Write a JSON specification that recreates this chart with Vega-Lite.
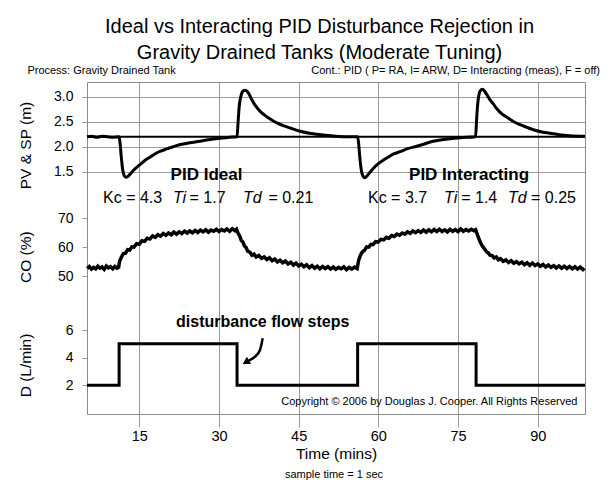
{
  "$schema": "https://vega.github.io/schema/vega-lite/v6.json",
  "width": 498,
  "height": 332,
  "autosize": {"type": "none"},
  "padding": {"left": 87, "top": 82, "right": 28, "bottom": 85},
  "background": "white",
  "config": {
    "font": "Liberation Sans",
    "view": {"stroke": "#8a8a8a", "strokeWidth": 1},
    "axis": {
      "domain": false,
      "grid": true,
      "gridColor": "#9a9a9a",
      "gridWidth": 1,
      "tickColor": "#9a9a9a",
      "labelColor": "black",
      "titleColor": "black",
      "titleFontWeight": "normal",
      "labelFont": "Liberation Sans",
      "titleFont": "Liberation Sans"
    }
  },
  "title": {
    "text": ["Ideal vs Interacting PID Disturbance Rejection in", "Gravity Drained Tanks (Moderate Tuning)"],
    "fontSize": 20,
    "fontWeight": "normal",
    "font": "Liberation Sans",
    "color": "black",
    "anchor": "middle",
    "frame": "group",
    "dx": -16.5,
    "dy": -2,
    "lineHeight": 25.6,
    "offset": 0
  },
  "datasets": {
    "pv": [
      {"t": 5.15, "pv": 2.2}, {"t": 6, "pv": 2.21}, {"t": 7, "pv": 2.19}, {"t": 8, "pv": 2.21}, {"t": 9, "pv": 2.2}, {"t": 10, "pv": 2.19},
      {"t": 11.2, "pv": 2.2}, {"t": 11.4, "pv": 2.05}, {"t": 11.6, "pv": 1.8}, {"t": 11.8, "pv": 1.6}, {"t": 12.0, "pv": 1.47}, {"t": 12.3, "pv": 1.4},
      {"t": 12.6, "pv": 1.39}, {"t": 13.0, "pv": 1.42}, {"t": 13.5, "pv": 1.48}, {"t": 14, "pv": 1.54}, {"t": 15, "pv": 1.63}, {"t": 16, "pv": 1.72},
      {"t": 17, "pv": 1.79}, {"t": 18, "pv": 1.86}, {"t": 19, "pv": 1.91}, {"t": 20, "pv": 1.95}, {"t": 21.4, "pv": 2.0}, {"t": 23, "pv": 2.05},
      {"t": 24.5, "pv": 2.08}, {"t": 26.4, "pv": 2.11}, {"t": 28, "pv": 2.14}, {"t": 30.2, "pv": 2.17}, {"t": 32, "pv": 2.19}, {"t": 33.4, "pv": 2.2},
      {"t": 33.6, "pv": 2.5}, {"t": 33.8, "pv": 2.8}, {"t": 34.1, "pv": 3.0}, {"t": 34.5, "pv": 3.11}, {"t": 35, "pv": 3.13}, {"t": 35.5, "pv": 3.08},
      {"t": 36, "pv": 2.98}, {"t": 36.5, "pv": 2.88}, {"t": 37, "pv": 2.8}, {"t": 38, "pv": 2.68}, {"t": 39, "pv": 2.6}, {"t": 40, "pv": 2.53},
      {"t": 41, "pv": 2.47}, {"t": 42.1, "pv": 2.42}, {"t": 43.5, "pv": 2.37}, {"t": 45.3, "pv": 2.31}, {"t": 47, "pv": 2.27}, {"t": 48.4, "pv": 2.25},
      {"t": 50, "pv": 2.23}, {"t": 52, "pv": 2.21}, {"t": 54, "pv": 2.2}, {"t": 56.1, "pv": 2.2}, {"t": 56.3, "pv": 2.05}, {"t": 56.5, "pv": 1.8},
      {"t": 56.7, "pv": 1.6}, {"t": 56.9, "pv": 1.47}, {"t": 57.2, "pv": 1.4}, {"t": 57.5, "pv": 1.38}, {"t": 57.9, "pv": 1.42}, {"t": 58.5, "pv": 1.5},
      {"t": 59, "pv": 1.56}, {"t": 60, "pv": 1.66}, {"t": 60.9, "pv": 1.73}, {"t": 62, "pv": 1.8}, {"t": 63, "pv": 1.86}, {"t": 64.1, "pv": 1.9},
      {"t": 65.5, "pv": 1.96}, {"t": 67.2, "pv": 2.01}, {"t": 68.8, "pv": 2.06}, {"t": 70.3, "pv": 2.11}, {"t": 72, "pv": 2.14}, {"t": 73.5, "pv": 2.16},
      {"t": 75.5, "pv": 2.18}, {"t": 78.3, "pv": 2.2}, {"t": 78.5, "pv": 2.55}, {"t": 78.7, "pv": 2.85}, {"t": 78.9, "pv": 3.02}, {"t": 79.2, "pv": 3.12},
      {"t": 79.6, "pv": 3.15}, {"t": 80, "pv": 3.11}, {"t": 80.5, "pv": 3.03}, {"t": 81, "pv": 2.94}, {"t": 81.6, "pv": 2.86}, {"t": 82.3, "pv": 2.76},
      {"t": 83.2, "pv": 2.66}, {"t": 84.2, "pv": 2.59}, {"t": 85.5, "pv": 2.5}, {"t": 86.7, "pv": 2.44}, {"t": 87.9, "pv": 2.39}, {"t": 89.5, "pv": 2.33},
      {"t": 91, "pv": 2.29}, {"t": 92.3, "pv": 2.27}, {"t": 94, "pv": 2.24}, {"t": 96, "pv": 2.22}, {"t": 98.9, "pv": 2.21}
    ],
    "sp": [{"t": 5.15, "sp": 2.2}, {"t": 98.9, "sp": 2.2}],
    "d": [{"t": 5.15, "d": 2}, {"t": 11.2, "d": 5}, {"t": 33.4, "d": 2}, {"t": 56.1, "d": 5}, {"t": 78.4, "d": 2}, {"t": 98.9, "d": 2}],
    "co": [
      {"t": 5.2, "co": 52.6}, {"t": 5.6, "co": 53.3}, {"t": 6.0, "co": 52.4}, {"t": 6.4, "co": 53.0}, {"t": 6.8, "co": 52.5}, {"t": 7.2, "co": 53.4},
      {"t": 7.6, "co": 52.7}, {"t": 8.0, "co": 53.1}, {"t": 8.4, "co": 52.3}, {"t": 8.8, "co": 53.5}, {"t": 9.2, "co": 52.8}, {"t": 9.6, "co": 53.2},
      {"t": 10.0, "co": 52.5}, {"t": 10.4, "co": 53.3}, {"t": 10.8, "co": 52.7}, {"t": 11.1, "co": 53.0}, {"t": 11.3, "co": 55.2}, {"t": 11.6, "co": 56.4},
      {"t": 12.0, "co": 57.8}, {"t": 12.4, "co": 57.9}, {"t": 12.8, "co": 59.1}, {"t": 13.2, "co": 59.0}, {"t": 13.6, "co": 60.1}, {"t": 14.0, "co": 60.0},
      {"t": 14.5, "co": 61.2}, {"t": 15.0, "co": 61.0}, {"t": 15.5, "co": 62.2}, {"t": 16.0, "co": 62.0}, {"t": 16.5, "co": 63.1}, {"t": 17.0, "co": 62.8},
      {"t": 17.5, "co": 63.9}, {"t": 18.0, "co": 63.4}, {"t": 18.5, "co": 64.3}, {"t": 19.0, "co": 63.8}, {"t": 19.5, "co": 64.7}, {"t": 20.0, "co": 64.1},
      {"t": 20.5, "co": 64.9}, {"t": 21.0, "co": 64.3}, {"t": 21.5, "co": 65.2}, {"t": 22.0, "co": 64.5}, {"t": 22.5, "co": 65.3}, {"t": 23.0, "co": 64.7},
      {"t": 23.5, "co": 65.5}, {"t": 24.0, "co": 64.9}, {"t": 24.5, "co": 65.6}, {"t": 25.0, "co": 65.0}, {"t": 25.5, "co": 65.8}, {"t": 26.0, "co": 65.1},
      {"t": 26.5, "co": 65.9}, {"t": 27.0, "co": 65.3}, {"t": 27.5, "co": 66.0}, {"t": 28.0, "co": 65.2}, {"t": 28.5, "co": 65.9}, {"t": 29.0, "co": 65.5},
      {"t": 29.5, "co": 66.2}, {"t": 30.0, "co": 65.4}, {"t": 30.5, "co": 66.1}, {"t": 31.0, "co": 65.6}, {"t": 31.5, "co": 66.3}, {"t": 32.0, "co": 65.5},
      {"t": 32.5, "co": 66.4}, {"t": 33.0, "co": 65.7}, {"t": 33.3, "co": 66.2}, {"t": 33.6, "co": 64.8}, {"t": 33.9, "co": 63.9}, {"t": 34.2, "co": 62.3},
      {"t": 34.5, "co": 61.8}, {"t": 34.8, "co": 60.4}, {"t": 35.1, "co": 59.9}, {"t": 35.4, "co": 58.6}, {"t": 35.8, "co": 58.3}, {"t": 36.2, "co": 57.2},
      {"t": 36.6, "co": 57.6}, {"t": 37.0, "co": 56.6}, {"t": 37.5, "co": 57.1}, {"t": 38.0, "co": 56.1}, {"t": 38.5, "co": 56.6}, {"t": 39.0, "co": 55.7},
      {"t": 39.5, "co": 56.3}, {"t": 40.0, "co": 55.3}, {"t": 40.5, "co": 55.9}, {"t": 41.0, "co": 54.9}, {"t": 41.5, "co": 55.5}, {"t": 42.0, "co": 54.6},
      {"t": 42.5, "co": 55.2}, {"t": 43.0, "co": 54.2}, {"t": 43.5, "co": 54.8}, {"t": 44.0, "co": 53.8}, {"t": 44.5, "co": 54.5}, {"t": 45.0, "co": 53.5},
      {"t": 45.5, "co": 54.1}, {"t": 46.0, "co": 53.2}, {"t": 46.5, "co": 53.9}, {"t": 47.0, "co": 52.9}, {"t": 47.5, "co": 53.6}, {"t": 48.0, "co": 52.7},
      {"t": 48.5, "co": 53.4}, {"t": 49.0, "co": 52.5}, {"t": 49.5, "co": 53.3}, {"t": 50.0, "co": 52.6}, {"t": 50.5, "co": 53.2}, {"t": 51.0, "co": 52.4},
      {"t": 51.5, "co": 53.1}, {"t": 52.0, "co": 52.3}, {"t": 52.5, "co": 53.0}, {"t": 53.0, "co": 52.5}, {"t": 53.5, "co": 53.2}, {"t": 54.0, "co": 52.2},
      {"t": 54.5, "co": 53.0}, {"t": 55.0, "co": 52.4}, {"t": 55.5, "co": 53.1}, {"t": 56.0, "co": 52.6}, {"t": 56.3, "co": 55.5}, {"t": 56.6, "co": 57.1},
      {"t": 57.0, "co": 58.4}, {"t": 57.4, "co": 58.9}, {"t": 57.8, "co": 60.1}, {"t": 58.2, "co": 60.0}, {"t": 58.6, "co": 61.0}, {"t": 59.0, "co": 60.9},
      {"t": 59.5, "co": 61.9}, {"t": 60.0, "co": 61.8}, {"t": 60.5, "co": 62.7}, {"t": 61.0, "co": 62.5}, {"t": 61.5, "co": 63.4}, {"t": 62.0, "co": 63.1},
      {"t": 62.5, "co": 64.0}, {"t": 63.0, "co": 63.7}, {"t": 63.5, "co": 64.5}, {"t": 64.0, "co": 64.1}, {"t": 64.5, "co": 64.9}, {"t": 65.0, "co": 64.5},
      {"t": 65.5, "co": 65.3}, {"t": 66.0, "co": 64.8}, {"t": 66.5, "co": 65.6}, {"t": 67.0, "co": 65.0}, {"t": 67.5, "co": 65.7}, {"t": 68.0, "co": 65.1},
      {"t": 68.5, "co": 65.9}, {"t": 69.0, "co": 65.2}, {"t": 69.5, "co": 66.0}, {"t": 70.0, "co": 65.3}, {"t": 70.5, "co": 66.1}, {"t": 71.0, "co": 65.4},
      {"t": 71.5, "co": 66.2}, {"t": 72.0, "co": 65.4}, {"t": 72.5, "co": 66.0}, {"t": 73.0, "co": 65.3}, {"t": 73.5, "co": 66.2}, {"t": 74.0, "co": 65.5},
      {"t": 74.5, "co": 66.1}, {"t": 75.0, "co": 65.4}, {"t": 75.5, "co": 66.3}, {"t": 76.0, "co": 65.5}, {"t": 76.5, "co": 66.1}, {"t": 77.0, "co": 65.6},
      {"t": 77.5, "co": 66.2}, {"t": 78.0, "co": 65.7}, {"t": 78.3, "co": 66.0}, {"t": 78.6, "co": 64.6}, {"t": 78.9, "co": 63.0}, {"t": 79.2, "co": 61.7},
      {"t": 79.5, "co": 60.6}, {"t": 79.8, "co": 59.8}, {"t": 80.1, "co": 59.2}, {"t": 80.4, "co": 58.3}, {"t": 80.7, "co": 58.0}, {"t": 81.0, "co": 57.2},
      {"t": 81.4, "co": 57.1}, {"t": 81.8, "co": 56.3}, {"t": 82.2, "co": 56.6}, {"t": 82.6, "co": 55.6}, {"t": 83.0, "co": 56.0}, {"t": 83.5, "co": 55.1},
      {"t": 84.0, "co": 55.6}, {"t": 84.5, "co": 54.7}, {"t": 85.0, "co": 55.3}, {"t": 85.5, "co": 54.4}, {"t": 86.0, "co": 55.0}, {"t": 86.5, "co": 54.2},
      {"t": 87.0, "co": 54.8}, {"t": 87.5, "co": 53.9}, {"t": 88.0, "co": 54.6}, {"t": 88.5, "co": 53.7}, {"t": 89.0, "co": 54.5}, {"t": 89.5, "co": 53.6},
      {"t": 90.0, "co": 54.2}, {"t": 90.5, "co": 53.4}, {"t": 91.0, "co": 54.0}, {"t": 91.5, "co": 53.1}, {"t": 92.0, "co": 53.8}, {"t": 92.5, "co": 53.0},
      {"t": 93.0, "co": 53.6}, {"t": 93.5, "co": 52.8}, {"t": 94.0, "co": 53.5}, {"t": 94.5, "co": 52.7}, {"t": 95.0, "co": 53.4}, {"t": 95.5, "co": 52.6},
      {"t": 96.0, "co": 53.3}, {"t": 96.5, "co": 52.5}, {"t": 97.0, "co": 53.2}, {"t": 97.5, "co": 52.4}, {"t": 98.0, "co": 53.1}, {"t": 98.5, "co": 52.2},
      {"t": 98.8, "co": 52.7}
    ],
    "arrow": [{"t": 38.23, "d": 5.4}, {"t": 37.72, "d": 4.55}, {"t": 36.78, "d": 4.07}, {"t": 35.84, "d": 3.83}, {"t": 35.2, "d": 3.7}]
  },
  "encoding": {
    "x": {"field": "t", "type": "quantitative", "scale": {"domain": [5.154, 98.9], "nice": false, "zero": false},
      "axis": {"values": [15, 30, 45, 60, 75, 90], "grid": true, "ticks": true, "gridColor": "#9a9a9a", "tickColor": "#9a9a9a", "tickSize": 13, "labelFontSize": 14.5, "labelPadding": 2, "title": "Time (mins)", "titleFontSize": 15.5, "titleY": 44.6, "titleBaseline": "alphabetic"}}
  },
  "resolve": {"scale": {"y": "independent"}},
  "layer": [
    {
      "data": {"name": "pv"},
      "mark": {"type": "line", "color": "black", "strokeWidth": 3, "interpolate": "monotone"},
      "encoding": {
        "y": {"field": "pv", "type": "quantitative", "scale": {"domain": [-3.346, 3.294], "nice": false, "zero": false},
          "axis": {"orient": "left", "values": [1.5, 2, 2.5, 3], "format": ".1f", "tickSize": 5, "labelFontSize": 14, "labelPadding": 9, "title": "PV & SP (m)", "titleFontSize": 15.5, "titleX": -54, "titleY": 63, "titleAngle": 270}}
      }
    },
    {
      "data": {"name": "co"},
      "mark": {"type": "line", "color": "black", "strokeWidth": 3.5},
      "encoding": {
        "y": {"field": "co", "type": "quantitative", "scale": {"domain": [2.17, 117.24], "nice": false, "zero": false},
          "axis": {"orient": "left", "values": [50, 60, 70], "tickSize": 5, "labelFontSize": 14, "labelPadding": 9, "title": "CO (%)", "titleFontSize": 15.5, "titleX": -54, "titleY": 174.7, "titleAngle": 270}}
      }
    },
    {
      "data": {"name": "d"},
      "mark": {"type": "line", "color": "black", "strokeWidth": 3, "interpolate": "step-after"},
      "encoding": {
        "y": {"field": "d", "type": "quantitative", "scale": {"domain": [-0.076, 23.94], "nice": false, "zero": false},
          "axis": {"orient": "left", "values": [2, 4, 6], "tickSize": 5, "labelFontSize": 14, "labelPadding": 9, "title": "D (L/min)", "titleFontSize": 15.5, "titleX": -54, "titleY": 283, "titleAngle": 270}}
      }
    },
    {
      "data": {"name": "sp"},
      "mark": {"type": "line", "color": "black", "strokeWidth": 2},
      "encoding": {
        "y": {"field": "sp", "type": "quantitative", "scale": {"domain": [-3.346, 3.294], "nice": false, "zero": false}, "axis": null}
      }
    },
    {
      "data": {"values": [{"t": 27.65, "y": 1.334, "label": "PID Ideal"}, {"t": 77.07, "y": 1.334, "label": "PID Interacting"}]},
      "mark": {"type": "text", "fontSize": 17, "fontWeight": "bold", "align": "center", "baseline": "alphabetic", "color": "black"},
      "encoding": {
        "y": {"field": "y", "type": "quantitative", "scale": {"domain": [-3.346, 3.294], "nice": false, "zero": false}, "axis": null},
        "text": {"field": "label"}
      }
    },
    {
      "data": {"values": [
        {"t": 8.17, "y": 0.868, "label": "Kc = 4.3"}, {"t": 24.45, "y": 0.868, "label": "= 1.7"}, {"t": 39.3, "y": 0.868, "label": "= 0.21"},
        {"t": 58.05, "y": 0.868, "label": "Kc = 3.7"}, {"t": 75.6, "y": 0.868, "label": "= 1.4"}, {"t": 88.75, "y": 0.868, "label": "= 0.25"}
      ]},
      "mark": {"type": "text", "fontSize": 16, "align": "left", "baseline": "alphabetic", "color": "black"},
      "encoding": {
        "y": {"field": "y", "type": "quantitative", "scale": {"domain": [-3.346, 3.294], "nice": false, "zero": false}, "axis": null},
        "text": {"field": "label"}
      }
    },
    {
      "data": {"values": [
        {"t": 21.34, "y": 0.868, "label": "Ti"}, {"t": 34.52, "y": 0.868, "label": "Td"},
        {"t": 72.36, "y": 0.868, "label": "Ti"}, {"t": 84.4, "y": 0.868, "label": "Td"}
      ]},
      "mark": {"type": "text", "fontSize": 16, "fontStyle": "italic", "align": "left", "baseline": "alphabetic", "color": "black"},
      "encoding": {
        "y": {"field": "y", "type": "quantitative", "scale": {"domain": [-3.346, 3.294], "nice": false, "zero": false}, "axis": null},
        "text": {"field": "label"}
      }
    },
    {
      "data": {"values": [{"t": -6.07, "y": 3.454, "label": "Process: Gravity Drained Tank"}]},
      "mark": {"type": "text", "fontSize": 11, "align": "left", "baseline": "alphabetic", "color": "black"},
      "encoding": {
        "y": {"field": "y", "type": "quantitative", "scale": {"domain": [-3.346, 3.294], "nice": false, "zero": false}, "axis": null},
        "text": {"field": "label"}
      }
    },
    {
      "data": {"values": [{"t": 101.73, "y": 3.454, "label": "Cont.: PID ( P= RA, I= ARW, D= Interacting (meas), F = off)"}]},
      "mark": {"type": "text", "fontSize": 11, "align": "right", "baseline": "alphabetic", "color": "black"},
      "encoding": {
        "y": {"field": "y", "type": "quantitative", "scale": {"domain": [-3.346, 3.294], "nice": false, "zero": false}, "axis": null},
        "text": {"field": "label"}
      }
    },
    {
      "data": {"values": [{"t": 21.91, "d": 6.195, "label": "disturbance flow steps"}]},
      "mark": {"type": "text", "fontSize": 16, "fontWeight": "bold", "align": "left", "baseline": "alphabetic", "color": "black"},
      "encoding": {
        "y": {"field": "d", "type": "quantitative", "scale": {"domain": [-0.076, 23.94], "nice": false, "zero": false}, "axis": null},
        "text": {"field": "label"}
      }
    },
    {
      "data": {"values": [{"t": 97.47, "d": 0.539, "label": "Copyright © 2006 by Douglas J. Cooper. All Rights Reserved"}]},
      "mark": {"type": "text", "fontSize": 11, "align": "right", "baseline": "alphabetic", "color": "black"},
      "encoding": {
        "y": {"field": "d", "type": "quantitative", "scale": {"domain": [-0.076, 23.94], "nice": false, "zero": false}, "axis": null},
        "text": {"field": "label"}
      }
    },
    {
      "data": {"values": [{"t": 51.65, "d": -4.705, "label": "sample time = 1 sec"}]},
      "mark": {"type": "text", "fontSize": 11, "align": "center", "baseline": "alphabetic", "color": "black"},
      "encoding": {
        "y": {"field": "d", "type": "quantitative", "scale": {"domain": [-0.076, 23.94], "nice": false, "zero": false}, "axis": null},
        "text": {"field": "label"}
      }
    },
    {
      "data": {"name": "arrow"},
      "mark": {"type": "line", "color": "black", "strokeWidth": 2.5, "interpolate": "monotone"},
      "encoding": {
        "y": {"field": "d", "type": "quantitative", "scale": {"domain": [-0.076, 23.94], "nice": false, "zero": false}, "axis": null}
      }
    },
    {
      "data": {"values": [{"t": 35.25, "d": 3.72}]},
      "mark": {"type": "point", "shape": "triangle", "filled": true, "color": "black", "size": 70, "angle": 240, "opacity": 1},
      "encoding": {
        "y": {"field": "d", "type": "quantitative", "scale": {"domain": [-0.076, 23.94], "nice": false, "zero": false}, "axis": null}
      }
    }
  ]
}
